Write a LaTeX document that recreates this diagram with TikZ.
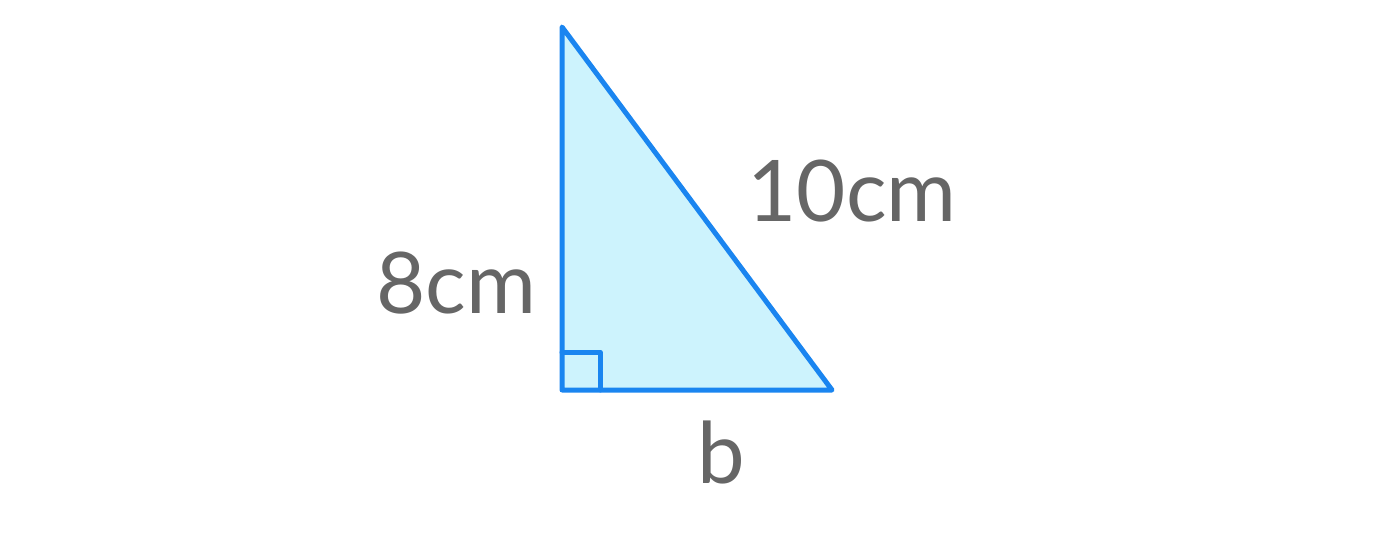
\documentclass[tikz,border=0pt]{standalone}
\usepackage{fontspec}
\setmainfont{Lato}
\definecolor{edge}{HTML}{1A85F0}
\definecolor{fillc}{HTML}{CDF3FD}
\definecolor{txt}{HTML}{666666}
\begin{document}
\begin{tikzpicture}[x=1pt,y=-1pt,
  lbl/.style={text=txt,font=\fontsize{85}{100}\selectfont,inner sep=0pt,anchor=base},
  side/.style={draw=edge,line width=5pt,line join=round,line cap=round}]
\useasboundingbox (0,0) rectangle (1384,540);
\coordinate (A) at (562,27);
\coordinate (B) at (562,390);
\coordinate (C) at (832,390);
\fill[fillc] (A) -- (B) -- (C) -- cycle;
\draw[side] (B) ++(0,-38) -- ++(38,0) -- ++(0,38);
\draw[side] (A) -- (B) -- (C) -- cycle;
\node[lbl] (h) at (852,222) {10cm};
\node[lbl] (l) at (456,313) {8cm};
\node[lbl] (b) at (721,483) {b};
\end{tikzpicture}
\end{document}
